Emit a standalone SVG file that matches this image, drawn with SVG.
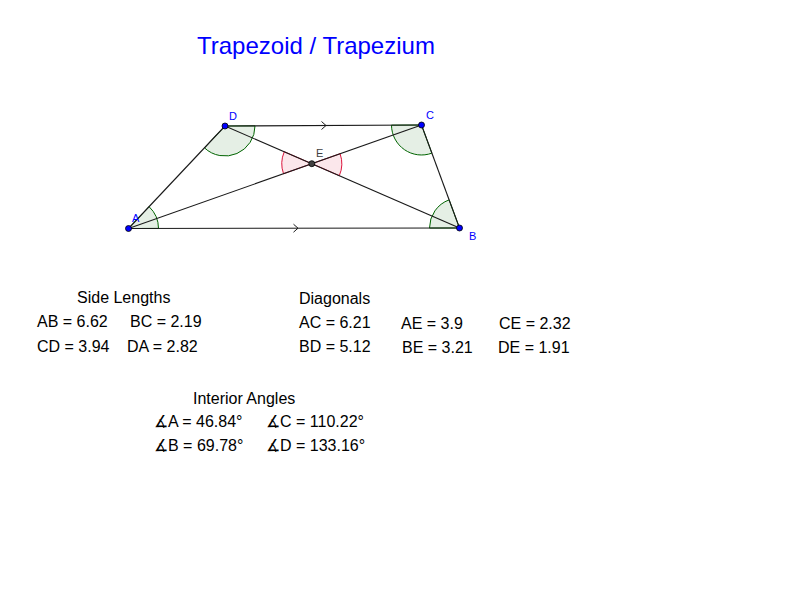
<svg xmlns="http://www.w3.org/2000/svg" width="800" height="600" viewBox="0 0 800 600">
<style>
text{font-family:"Liberation Sans",Arial,sans-serif;}
.t{font-size:16px;fill:#000;}
.lbl{font-size:11px;fill:#0000ff;}
.seg{stroke:#1a1a1a;stroke-width:1.1;fill:none;}
.ang{fill:#006400;fill-opacity:0.1;stroke:#006400;stroke-width:1;}
.angE{fill:#dc143c;fill-opacity:0.1;stroke:#dc143c;stroke-width:1;}
.pt{fill:#0000ff;stroke:#000;stroke-width:0.8;}
.tick{stroke:#1a1a1a;stroke-width:1;fill:none;}
</style>
<rect width="800" height="600" fill="#fff"/>
<text x="197" y="54" font-size="24" fill="#0000ff" style="font-size:24px">Trapezoid / Trapezium</text>
<g id="angles">
<path class="ang" d="M128.5,228.5 L149.06,206.66 A30,30 0 0 1 158.5,228.45 Z"/>
<path class="ang" d="M459.5,228 L429.5,228.05 A30,30 0 0 1 449.12,199.86 Z"/>
<path class="ang" d="M421.5,125 L431.88,153.14 A30,30 0 0 1 391.5,125.15 Z"/>
<path class="ang" d="M225,126 L255,125.85 A30,30 0 0 1 204.44,147.84 Z"/>
<path class="angE" d="M311.8,163.7 L283.52,173.72 A30,30 0 0 1 284.29,151.74 Z"/>
<path class="angE" d="M311.8,163.7 L340.09,153.72 A30,30 0 0 1 339.3,175.68 Z"/>
</g>
<g id="connectors">
<line class="seg" x1="128.5" y1="228.5" x2="459.5" y2="228"/>
<line class="seg" x1="459.5" y1="228" x2="421.5" y2="125"/>
<line class="seg" x1="421.5" y1="125" x2="225" y2="126"/>
<line class="seg" x1="225" y1="126" x2="128.5" y2="228.5"/>
<line class="seg" x1="128.5" y1="228.5" x2="421.5" y2="125"/>
<line class="seg" x1="459.5" y1="228" x2="225" y2="126"/>
<path class="tick" d="M321.5,121.5 L326,125.5 L321.5,129.5"/>
<path class="tick" d="M293.5,224.2 L298,228.2 L293.5,232.2"/>
</g>
<g id="A"><circle class="pt" cx="128.5" cy="228.5" r="3"/><text class="lbl" x="132" y="222">A</text></g>
<g id="B"><circle class="pt" cx="459.5" cy="228" r="3"/><text class="lbl" x="469" y="240">B</text></g>
<g id="C"><circle class="pt" cx="421.5" cy="125" r="3"/><text class="lbl" x="426" y="119">C</text></g>
<g id="D"><circle class="pt" cx="225" cy="126" r="3"/><text class="lbl" x="229" y="120">D</text></g>
<g id="E"><circle cx="311.8" cy="163.7" r="3" fill="#404040" stroke="#000" stroke-width="0.8"/><text class="lbl" x="316" y="157" style="fill:#404040">E</text></g>
<g id="side-lengths">
<text class="t" x="77" y="303">Side Lengths</text>
<text class="t" x="37" y="327">AB = 6.62</text>
<text class="t" x="130" y="327">BC = 2.19</text>
<text class="t" x="37" y="352">CD = 3.94</text>
<text class="t" x="127" y="352">DA = 2.82</text>
</g>
<g id="diagonals">
<text class="t" x="299" y="304">Diagonals</text>
<text class="t" x="299" y="328">AC = 6.21</text>
<text class="t" x="401" y="329">AE = 3.9</text>
<text class="t" x="499" y="329">CE = 2.32</text>
<text class="t" x="299" y="352">BD = 5.12</text>
<text class="t" x="402" y="353">BE = 3.21</text>
<text class="t" x="498" y="353">DE = 1.91</text>
</g>
<g id="interior-angles">
<text class="t" x="193" y="404">Interior Angles</text>
<text class="t" x="154" y="427">∡A = 46.84°</text>
<text class="t" x="266" y="427">∡C = 110.22°</text>
<text class="t" x="154" y="451">∡B = 69.78°</text>
<text class="t" x="266" y="451">∡D = 133.16°</text>
</g>
</svg>
